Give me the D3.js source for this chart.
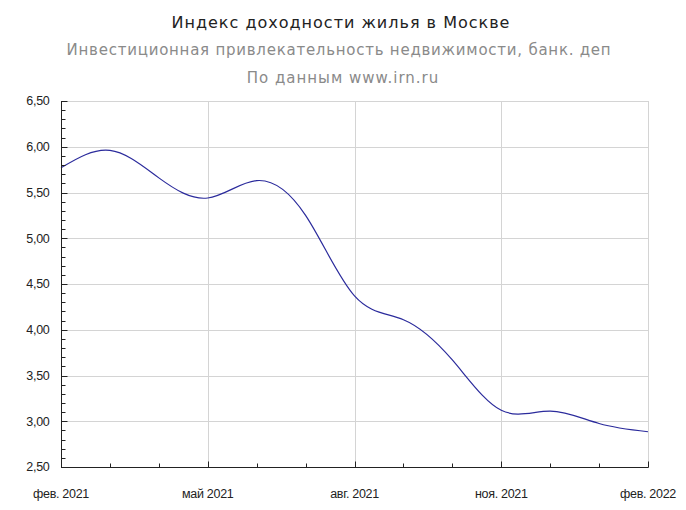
<!DOCTYPE html>
<html><head><meta charset="utf-8">
<script src="https://cdn.jsdelivr.net/npm/d3@7"></script>
<style>body{margin:0;background:#fff}svg{display:block}</style>
</head><body>
<svg id="c" width="686" height="510"></svg>
<script>
const months = ["фев. 2021","мар. 2021","апр. 2021","май 2021","июн. 2021","июл. 2021","авг. 2021","сен. 2021","окт. 2021","ноя. 2021","дек. 2021","янв. 2022","фев. 2022"];
const values = [5.77, 5.96, 5.66, 5.44, 5.63, 5.25, 4.37, 4.11, 3.67, 3.12, 3.11, 2.975, 2.885];
const xTickIdx = [0, 3, 6, 9, 12];
const yTicks = [2.5, 3.0, 3.5, 4.0, 4.5, 5.0, 5.5, 6.0, 6.5];

const svg = d3.select("#c");
const L = 61, R = 648, T = 101, B = 467;
const x = d3.scaleLinear().domain([0, months.length - 1]).range([L, R]);
const y = d3.scaleLinear().domain([2.5, 6.5]).range([B, T]);

// titles
const tf = "'DejaVu Sans', sans-serif";
svg.append("text").attr("x", 341).attr("y", 27.5).attr("text-anchor", "middle")
  .attr("font-family", tf).attr("font-size", 16).attr("letter-spacing", 1).attr("fill", "#222")
  .text("Индекс доходности жилья в Москве");
svg.append("text").attr("x", 339).attr("y", 55).attr("text-anchor", "middle")
  .attr("font-family", tf).attr("font-size", 15).attr("letter-spacing", 0.75).attr("fill", "#8a8a8a")
  .text("Инвестиционная привлекательность недвижимости, банк. деп");
svg.append("text").attr("x", 343).attr("y", 83).attr("text-anchor", "middle")
  .attr("font-family", tf).attr("font-size", 15).attr("letter-spacing", 1).attr("fill", "#8a8a8a")
  .text("По данным www.irn.ru");

// grid
const g = svg.append("g");
g.selectAll(".hg").data(yTicks.slice(1)).join("line")
  .attr("x1", L).attr("x2", R).attr("y1", d => Math.round(y(d)) + 0.5).attr("y2", d => Math.round(y(d)) + 0.5)
  .attr("stroke", "#d4d4d4");
g.selectAll(".vg").data(xTickIdx.slice(1)).join("line")
  .attr("x1", d => Math.round(x(d)) + 0.5).attr("x2", d => Math.round(x(d)) + 0.5).attr("y1", T).attr("y2", B)
  .attr("stroke", "#d4d4d4");

// line
svg.append("path").datum(values)
  .attr("fill", "none").attr("stroke", "#2b2b9c").attr("stroke-width", 1.2)
  .attr("d", d3.line().x((d, i) => x(i)).y(d => y(d)).curve(d3.curveNatural));

// y axis
const lf = "'Liberation Sans', Arial, sans-serif";
const yMinor = d3.range(25, 66).map(v => v / 10);
const ya = svg.append("g").attr("transform", `translate(${L + 0.5},0)`);
ya.append("line").attr("x1", 0).attr("x2", 0).attr("y1", T).attr("y2", B + 0.5).attr("stroke", "#222");
ya.selectAll(".ym").data(yMinor).join("line")
  .attr("x1", 0).attr("x2", d => (Math.round(d * 10) % 5 === 0 ? 6 : 4))
  .attr("y1", d => Math.round(y(d)) + 0.5).attr("y2", d => Math.round(y(d)) + 0.5).attr("stroke", "#222");
ya.selectAll(".yl").data(yTicks).join("text")
  .attr("x", -12).attr("y", d => y(d)).attr("dy", "0.35em").attr("text-anchor", "end")
  .attr("font-family", lf).attr("font-size", 12.5).attr("fill", "#222")
  .attr("letter-spacing", -0.3)
  .text(d => d3.format(".2f")(d).replace(".", ","));

// x axis
const xa = svg.append("g").attr("transform", `translate(0,${B + 0.5})`);
xa.append("line").attr("x1", L).attr("x2", R + 0.5).attr("y1", 0).attr("y2", 0).attr("stroke", "#222");
xa.selectAll(".xm").data(d3.range(months.length)).join("line")
  .attr("x1", d => Math.round(x(d)) + 0.5).attr("x2", d => Math.round(x(d)) + 0.5)
  .attr("y1", 0).attr("y2", d => (d % 3 === 0 ? -6 : -4)).attr("stroke", "#222");
xa.selectAll(".xl").data(xTickIdx).join("text")
  .attr("x", d => x(d)).attr("y", 30).attr("text-anchor", "middle")
  .attr("font-family", lf).attr("font-size", 12.5).attr("fill", "#222")
  .attr("letter-spacing", -0.3)
  .text(d => months[d]);
</script>
</body></html>
